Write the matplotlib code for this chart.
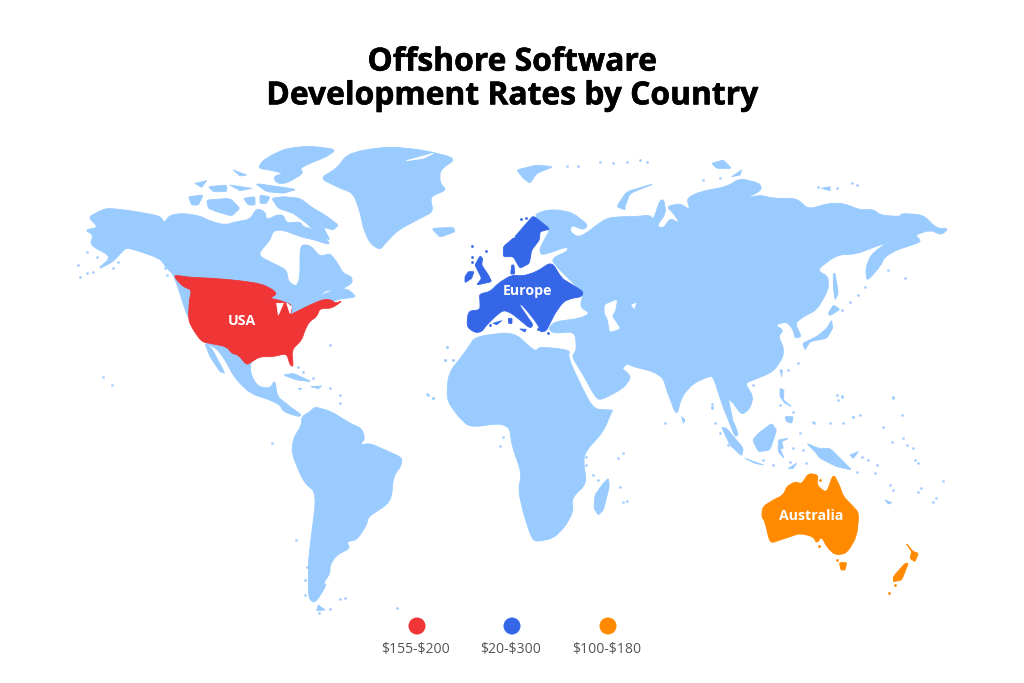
import matplotlib
matplotlib.use("Agg")
import matplotlib.pyplot as plt
import matplotlib.patheffects as pe
from matplotlib.patches import Polygon, PathPatch
from matplotlib.path import Path

TITLE = "Offshore Software\nDevelopment Rates by Country"
LEGEND_LABELS = [r"\$155-\$200", r"\$20-\$300", r"\$100-\$180"]
REGION_LABELS = ["USA", "Europe", "Australia"]
LIGHT = "#99CBFF"; RED = "#EF3535"; BLUE = "#3566E8"; ORANGE = "#FF8A00"
LEGEND_COLORS = [RED, BLUE, ORANGE]


def z1(p): return [(70 + x / 3, 140 + y / 3) for x, y in p]
def z2(p): return [(440 + x / 3, 150 + y / 3) for x, y in p]
def z3(p): return [(270 + x / 3, 370 + y / 3) for x, y in p]
def z4(p): return [(680 + x / 3, 380 + y / 3) for x, y in p]


NORTH_AMERICA = z1([(55,232),(85,215),(110,205),(150,208),(200,215),(270,228),(283,248),(300,225),(340,220),(390,228),(420,243),(465,255),(500,245),(540,238),(560,205),(585,215),(590,240),(620,225),(640,225),(650,250),(690,245),(700,260),(720,265),(760,290),(780,310),(770,312),(735,300),(690,290),(640,270),(610,272),(600,300),(570,335),(570,350),(610,370),(650,390),(655,425),(680,440),(690,410),(690,315),(720,315),(750,350),(780,340),(800,365),(820,400),(845,410),(847,430),(810,450),(770,450),(745,470),(790,450),(830,445),(860,470),(830,475),(800,478),(640,560),(545,665),(540,680),(545,710),(565,740),(600,745),(615,720),(622,770),(648,790)]) + z3([(60,110),(95,135),(85,140),(40,125),(30,105),(0,90)]) + z1([(540,760),(495,715),(465,660),(440,625),(405,610),(355,540),(312,405),(290,385),(270,355),(180,325),(165,325),(130,365),(80,390),(125,350),(60,315),(70,285),(45,270),(85,262)])
ARCTIC_ISLANDS = [
    z1([(605,45),(650,25),(720,18),(800,28),(770,50),(720,70),(690,85),(700,100),(650,130),(620,130),(610,110),(640,100),(600,90),(565,85),(575,65)]),
    z1([(605,175),(640,170),(690,175),(730,205),(765,225),(805,255),(790,270),(760,262),(780,300),(750,290),(710,250),(670,220),(625,205)]),
    z1([(410,180),(480,175),(510,205),(485,228),(440,215),(415,205)]),
    z1([(355,170),(400,165),(385,195),(365,195)]),
    z1([(520,175),(555,170),(555,195),(535,195)]),
    z1([(570,165),(600,170),(590,190),(570,190)]),
    z1([(555,130),(680,148),(640,160),(590,155)]),
    z1([(415,140),(470,135),(470,155),(430,155)]),
    z1([(375,130),(410,122),(395,142)]),
    z1([(490,90),(530,105),(510,108)]),
    z1([(480,135),(545,145),(510,152)]),
]
GREENLAND = z1([(750,115),(800,85),(830,45),(880,30),(960,20),(1060,30),(1160,55),(1110,90),(1110,130),(1130,150),(1080,170),(1090,215),(1050,235),(985,270),(950,305),(930,330),(900,310),(880,265),(870,215),(850,160),(800,140)])
ICELAND = z1([(1085,265),(1150,262),(1155,275),(1110,292)])
BAJA = z1([(405,610),(425,625),(465,700),(450,695),(420,650)])
CARIBBEAN = [z1([(640,705),(670,700),(725,725),(680,720)]), z1([(722,740),(755,738),(745,746)]), z1([(685,745),(695,745),(690,750)])]

EURASIA = z2([(280,195),(320,180),(360,180),(400,190),(445,225),(430,240),(395,225),(390,245),(415,262),(445,245),(470,225),(500,205),(540,200),(585,200),(630,195),(640,210),(660,150),(672,150),(678,190),(650,228),(670,235),(690,205),(720,220),(700,190),(680,170),(720,160),(750,180),(740,145),(780,125),(860,110),(900,85),(960,100),(965,120),(920,145),(960,135),(1000,145),(1070,145),(1105,178),(1165,160),(1210,160),(1260,180),(1300,178),(1320,195),(1380,200),(1385,190),(1450,195),(1490,235),(1525,235),(1505,255),(1470,240),(1425,255),(1445,275),(1400,290),(1370,300),(1335,320),(1320,350),(1280,395),(1277,355),(1290,320),(1310,300),(1340,280),(1310,288),(1250,312),(1190,315),(1130,360),(1165,380),(1165,420),(1130,480),(1090,500),(1065,520),(1085,560),(1065,565),(1060,540),(1040,515),(1005,525),(1030,540),(1015,560),(1030,590),(1030,620),(1000,665),(940,690),(915,700),(940,740),(930,775),(905,795),(880,760),(865,745),(870,770),(880,820),(895,855),(885,860),(865,810),(845,760),(820,680),(805,680),(760,700),(725,740),(710,800),(680,720),(670,685),(640,665),(580,650),(560,640),(545,660),(525,665),(495,610),(510,610),(540,650),(575,680),(550,715),(480,752),(462,735),(430,675),(395,620),(410,600),(405,545),(340,550),(325,535),(345,515),(420,505),(450,490),(420,470),(430,430),(335,335),(345,320),(380,305),(385,292),(365,295),(340,305),(305,315),(298,300),(315,265),(330,240)])
AFRICA = z2([(105,560),(220,545),(285,605),(300,590),(390,600),(385,622),(415,690),(460,778),(520,780)]) + z3([(1025,125),(1000,185),(950,240),(940,270),(950,340),(905,385),(910,425),(885,470),(850,505),(800,515),(785,505),(760,430),(745,360),(755,310),(725,225),(720,175),(690,160),(600,172),(565,140),(530,90),(535,10),(590,-60)])
SOUTH_AMERICA = z3([(95,140),(120,125),(135,110),(185,125),(240,160),(275,175),(285,205),(270,225),(300,220),(345,240),(395,262),(395,285),(370,320),(365,380),(350,405),(295,440),(290,465),(260,510),(230,515),(240,535),(200,555),(180,585),(180,610),(160,640),(170,645),(135,700),(115,685),(115,580),(120,530),(140,370),(100,335),(65,250),(70,205),(95,165)])
LIGHT_ISLANDS = [
    z3([(1015,325),(1018,350),(1000,420),(985,435),(972,415),(975,375),(1000,340)]),
    z3([(145,705),(165,720),(140,722)]),
    z2([(230,60),(290,45),(340,50),(290,70),(270,100),(250,85)]),
    z2([(530,170),(560,125),(645,100),(570,130),(555,170),(555,180)]),
    z2([(815,40),(850,30),(875,55),(830,55)]),
    z2([(875,80),(905,60),(900,75)]),
    z2([(1145,115),(1170,110),(1170,122)]),
    z2([(1180,370),(1185,370),(1195,430),(1185,450),(1180,410)]),
    z2([(1165,490),(1180,465),(1200,478),(1170,497)]),
    z2([(1088,580),(1130,560),(1160,535),(1175,510),(1178,535),(1160,565),(1110,575),(1095,600)]),
    z2([(1020,660),(1027,660),(1025,680)]),
    z2([(725,800),(735,810),(730,820)]),
    z4([(125,142),(140,145),(190,205),(185,228),(150,195)]),
    z4([(275,130),(290,150),(270,210),(235,215),(218,180),(235,160)]),
    z4([(195,235),(250,255),(225,250)]),
    z4([(380,190),(415,205),(450,205),(490,245),(515,270),(470,260),(420,235),(405,215)]),
    z4([(300,25),(312,30),(310,60),(335,80),(315,70),(300,50)]),
    z4([(315,110),(340,110),(335,130),(320,125)]),
    z4([(325,265),(350,250),(340,265)]),
    z4([(510,225),(535,215),(520,235)]),
    z4([(145,105),(165,135),(175,165),(155,130)]),
    z4([(295,180),(325,175),(305,185),(310,205),(300,205),(312,235),(295,215)]),
    z4([(615,360),(635,368),(625,372)]),
]
USA = z1([(312,405),(360,412),(430,415),(510,422),(575,432),(610,450),(620,462),(600,475),(625,480),(640,485),(665,495),(665,510),(660,525),(680,515),(720,495),(760,478),(785,480),(795,490),(818,482),(785,505),(750,505),(740,530),(718,545),(705,570),(695,600),(665,630),(670,680),(660,675),(650,640),(610,650),(570,650),(545,665),(530,675),(505,645),(485,640),(470,620),(420,610),(395,605),(370,570),(355,540),(358,480),(365,450),(340,440),(320,420)])
EUROPE = [
    z2([(85,483),(120,480),(120,455),(118,432),(150,425),(175,400),(215,375),(250,378),(290,365),(335,335),(365,385),(390,400),(430,425),(425,440),(395,445),(370,455),(345,490),(330,520),(320,540),(312,545),(300,545),(295,525),(250,468),(235,460),(262,500),(280,525),(270,535),(240,510),(215,490),(190,480),(165,500),(140,525),(125,545),(105,548),(80,530)]),
    z2([(280,197),(330,237),(300,245),(298,270),(275,300),(268,340),(240,355),(220,320),(190,320),(190,290),(225,260),(255,225)]),
    z2([(215,345),(222,345),(224,372),(212,372)]),
    z2([(120,318),(128,325),(125,345),(145,375),(155,395),(110,405),(125,385),(110,355),(105,345)]),
    z2([(85,365),(102,365),(95,385),(75,398),(75,380)]),
    z2([(240,537),(258,538),(255,546)]),
    z2([(205,505),(216,505),(216,520),(206,520)]),
    z2([(160,520),(185,512),(170,524)]),
]
AUSTRALIA = [
    z4([(248,380),(280,360),(310,345),(320,320),(345,305),(365,312),(385,280),(415,285),(410,315),(440,340),(460,280),(480,320),(490,350),(520,380),(537,400),(530,470),(500,520),(465,525),(440,500),(425,470),(410,490),(400,470),(360,460),(330,470),(300,480),(270,490),(255,425),(245,410)]),
    z4([(478,548),(500,548),(495,570),(483,570)]),
    z4([(678,490),(700,515),(715,520),(705,545),(690,535),(695,515)]),
    z4([(675,550),(685,550),(665,600),(640,605),(640,590)]),
]
WHITE_SEAS = [
    z2([(495,465),(530,450),(525,480),(515,500),(540,535),(510,545),(505,510),(495,490)]),
    z2([(575,465),(588,460),(582,475)]),
    z1([(620,490),(640,490),(625,525)]),
    z1([(650,490),(665,500),(660,520)]),
    z1([(1010,62),(1090,40),(1060,55)]),
]
DOTS_LIGHT = z1([(30,410),(50,400),(70,395),(130,385),(145,365),(50,335),(25,375),(80,350),(290,405),(285,385),(100,712),(125,735),(780,615),(1130,620),(1125,660),(1150,660),(1075,765),(1090,775),(685,680),(700,695),(730,715),(780,745),(810,765),(810,790)]) + z2([(380,47),(415,47),(480,35),(520,40),(560,35),(600,30),(620,35),(840,85),(790,90),(1135,110),(1155,115),(1190,115),(1235,100),(1250,105),(1345,360),(1395,385),(1275,410),(1255,435),(1230,455),(1205,480),(1190,735),(1360,745),(1045,660),(1075,640),(815,770),(675,820),(20,590),(15,630),(40,630),(1205,740),(1120,815),(1240,800)]) + z3([(6,220),(78,510),(110,592),(105,630),(105,675),(210,687),(225,685),(380,714),(470,72),(490,85),(700,200),(690,228),(948,260),(948,285),(970,315),(985,330),(1045,265),(1060,250),(1050,352),(1060,395),(1072,392),(180,718),(148,730)]) + z4([(97,72),(97,85),(105,128),(120,160),(145,195),(220,15),(300,75),(340,95),(403,128),(450,128),(490,130),(520,112),(540,105),(610,140),(635,185),(680,195),(700,205),(705,240),(715,248),(475,60),(485,48),(640,52),(665,105),(670,175),(545,230),(565,240),(590,255),(585,278),(630,315),(640,330),(715,335),(722,325),(760,365),(768,355),(790,303),(530,275),(360,160),(340,205),(370,210),(250,240),(280,255),(330,245),(378,250)])
DOTS_BLUE = z2([(95,322),(97,335),(138,302),(97,288),(243,208),(258,203),(210,515),(150,525),(295,538),(325,550),(210,480)])
DOTS_WHITE = z2([(218,258),(228,360),(252,362),(290,303),(310,323),(280,337)])
DOTS_ORANGE = z4([(470,540),(628,640),(645,615),(418,498),(420,300)])
LABEL_X = [242, 527, 811]
LABEL_Y = [321, 291, 516]
LEG_X = [417, 512, 608]

plt.rcParams["font.family"] = ["Open Sans", "DejaVu Sans"]
fig = plt.figure(figsize=(10.24, 6.83), dpi=100, facecolor="white")
ax = fig.add_axes([0, 0, 1, 1])
ax.set_xlim(0, 1024); ax.set_ylim(683, 0); ax.axis("off")


def outline(points):
    """Closed outline with slightly rounded corners; tighter on small shapes."""
    n = len(points)
    round_part = 0.35 if n > 14 else 0.18
    verts, codes = [], []
    for i, (vx, vy) in enumerate(points):
        px, py = points[i - 1]
        nx, ny = points[(i + 1) % n]
        verts += [(vx + (px - vx) * round_part, vy + (py - vy) * round_part), (vx, vy),
                  (vx + (nx - vx) * round_part, vy + (ny - vy) * round_part)]
        codes += [Path.MOVETO if i == 0 else Path.LINETO, Path.CURVE3, Path.CURVE3]
    verts.append(verts[0]); codes.append(Path.CLOSEPOLY)
    return Path(verts, codes)


def fill(points, color, z):
    if len(points) >= 4:
        ax.add_patch(PathPatch(outline(points), facecolor=color, edgecolor=color,
                               linewidth=0.6, joinstyle="round", zorder=z))
    else:
        ax.add_patch(Polygon(points, closed=True, facecolor=color, edgecolor=color,
                             linewidth=0.6, joinstyle="round", zorder=z))


def dots(points, color, size, z):
    ax.scatter([p[0] for p in points], [p[1] for p in points], s=size, color=color,
               linewidths=0, zorder=z)


for shape in [NORTH_AMERICA, GREENLAND, ICELAND, BAJA, EURASIA, AFRICA, SOUTH_AMERICA]:
    fill(shape, LIGHT, 2)
for shape in ARCTIC_ISLANDS + CARIBBEAN + LIGHT_ISLANDS:
    fill(shape, LIGHT, 2)
fill(USA, RED, 3)
for shape in EUROPE:
    fill(shape, BLUE, 3)
for shape in AUSTRALIA:
    fill(shape, ORANGE, 3)
for shape in WHITE_SEAS:
    fill(shape, "white", 4)
dots(DOTS_LIGHT, LIGHT, 3.5, 2)
dots(DOTS_BLUE, BLUE, 4, 3)
dots(DOTS_WHITE, "white", 4, 4)
dots(DOTS_ORANGE, ORANGE, 4, 3)

ax.text(512, 79, TITLE, ha="center", va="center", fontsize=22.9, fontweight="bold",
        color="black", linespacing=1.03, zorder=6,
        path_effects=[pe.withStroke(linewidth=0.4, foreground="black")])
for name, x, y in zip(REGION_LABELS, LABEL_X, LABEL_Y):
    ax.text(x, y, name, ha="center", va="center", fontsize=10.2, fontweight="bold",
            color="white", zorder=6)
ax.scatter(LEG_X, [626] * 3, s=150, c=LEGEND_COLORS, linewidths=0, zorder=5)
for label, x in zip(LEGEND_LABELS, LEG_X):
    ax.text(x - 1, 650, label, ha="center", va="center", fontsize=10.1, color="#555555", zorder=5)

fig.savefig("out.png", dpi=100, facecolor="white")
